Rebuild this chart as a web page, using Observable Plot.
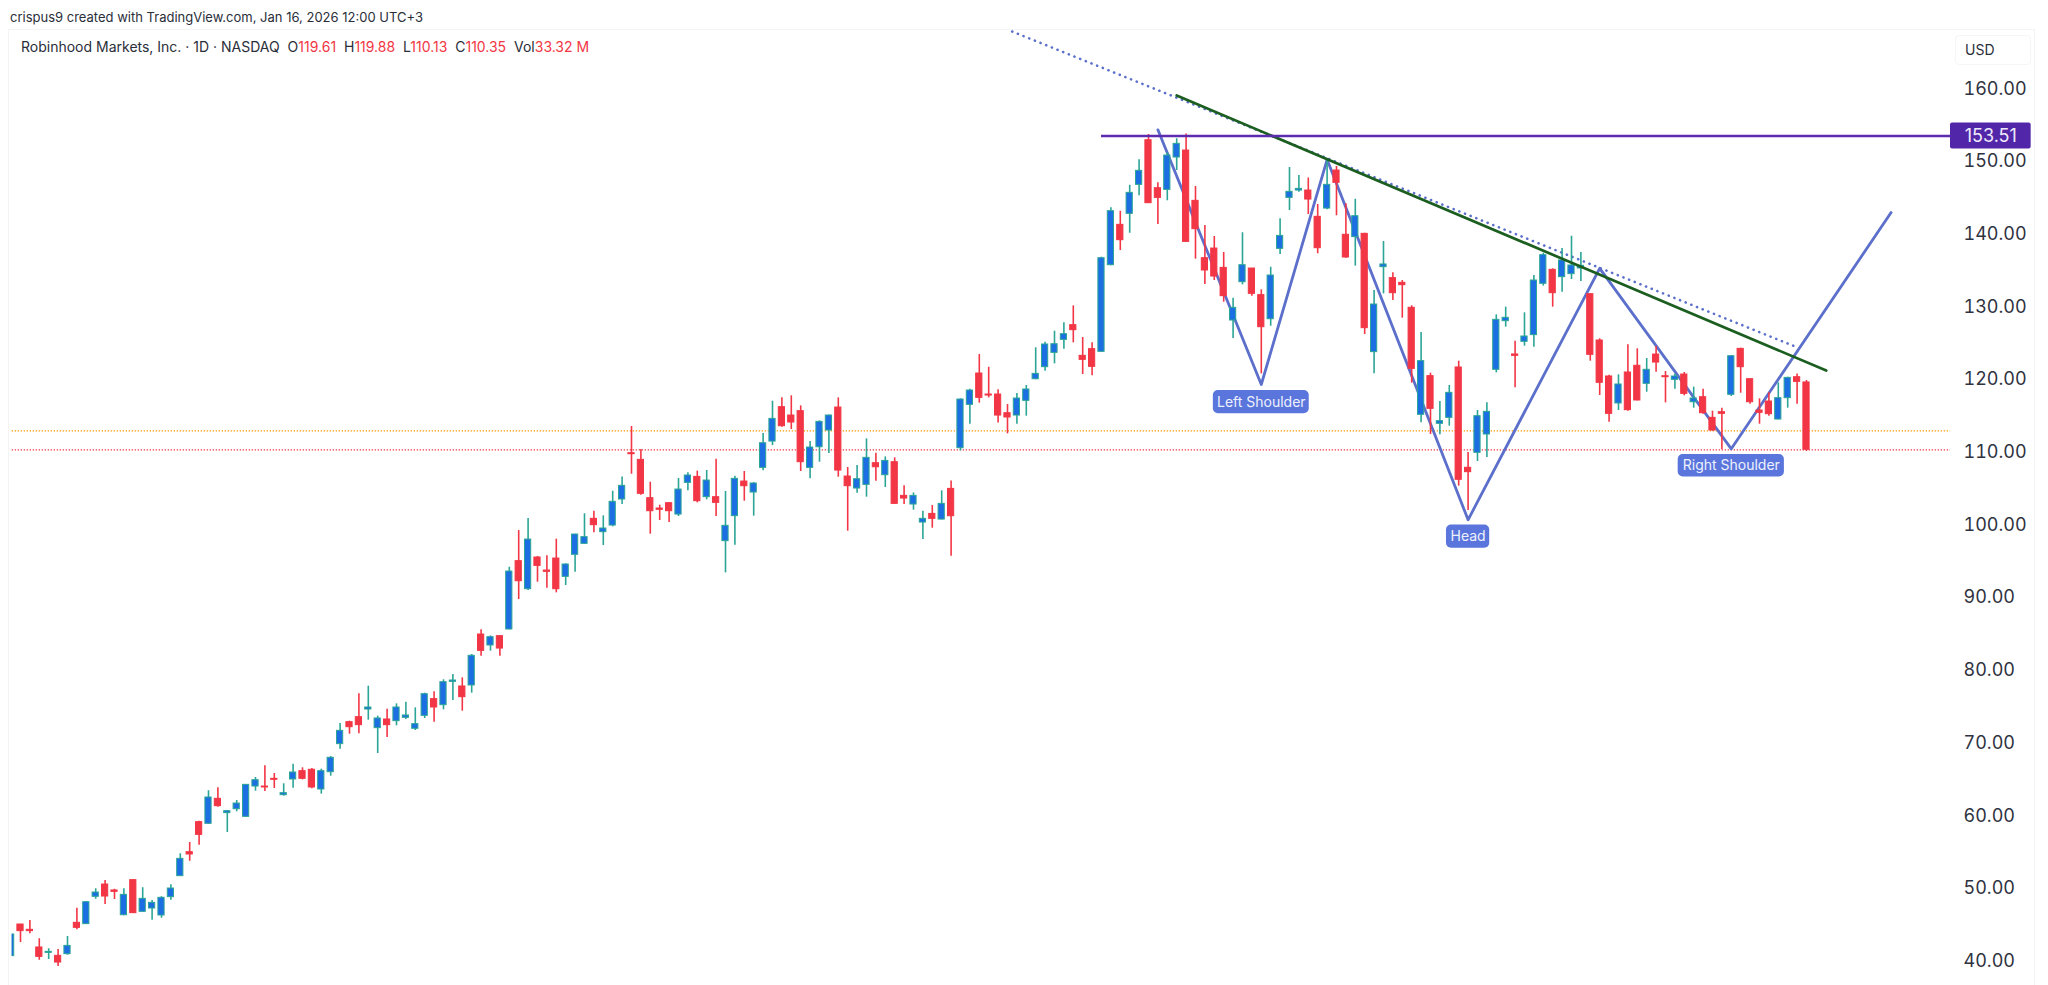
<!DOCTYPE html>
<html>
<head>
<meta charset="utf-8">
<script src="https://cdn.jsdelivr.net/npm/d3@7"></script>
<script src="https://cdn.jsdelivr.net/npm/@observablehq/plot@0.6"></script>
<style>
html,body{margin:0;padding:0;background:#fff;}
#wrap{position:relative;width:2048px;height:985px;overflow:hidden;font-family:Inter,"Liberation Sans",sans-serif;}
#pane{position:absolute;left:8px;top:29px;width:2027px;height:960px;border:1px solid #f4f4f5;box-sizing:border-box;}
#chart{position:absolute;left:0;top:0;}
.t{position:absolute;white-space:nowrap;color:#2a2e39;}
.r{color:#f23645;}
#usd{position:absolute;left:1955px;top:35px;width:76px;height:30px;border:1px solid #f6f6f7;border-radius:4px;box-sizing:border-box;font-size:14px;line-height:28px;padding-left:9px;color:#2a2e39;}
</style>
</head>
<body>
<div id="wrap">
<div id="pane"></div>
<div id="chart"></div>
<div class="t" style="left:10px;top:9px;font-size:13px;">crispus9 created with TradingView.com, Jan 16, 2026 12:00 UTC+3</div>
<div class="t" style="left:21px;top:38px;font-size:14px;">Robinhood Markets, Inc. · 1D · NASDAQ&nbsp; O<span class="r">119.61</span>&nbsp; H<span class="r">119.88</span>&nbsp; L<span class="r">110.13</span>&nbsp; C<span class="r">110.35</span>&nbsp; Vol<span class="r">33.32 M</span></div>
<div id="usd">USD</div>
</div>
<script>
const highs=[43.68,45.05,45.60,43.08,41.70,41.61,43.40,47.30,48.17,49.96,51.10,49.91,49.96,51.19,50.09,48.35,48.86,50.51,54.77,56.33,59.26,63.44,63.85,60.73,62.11,64.31,65.27,66.88,65.82,64.40,67.10,66.60,66.51,66.42,68.16,72.70,73.02,76.78,77.83,73.71,74.67,75.40,75.63,74.85,76.87,77.05,78.71,79.44,78.98,82.19,
85.58,84.75,84.75,94.20,99.24,100.89,95.67,95.76,98.05,94.66,98.74,101.54,101.90,101.26,104.65,106.62,113.55,110.39,105.89,102.73,103.09,106.40,107.18,107.41,107.50,109.05,104.61,106.72,107.36,105.85,
112.58,117.03,117.49,117.77,116.39,111.48,114.33,115.15,117.49,107.91,108.18,111.85,109.88,109.37,109.24,105.39,104.42,101.90,102.68,104.70,106.07,117.35,118.68,123.45,121.70,118.59,116.57,118.09,119.19,124.37,
125.15,126.66,127.81,130.15,125.79,125.06,136.84,143.63,143.17,146.74,150.23,153.70,147.07,151.20,153.12,153.80,146.56,141.20,139.68,137.48,131.20,140.19,135.28,132.35,135.46,142.12,149.18,148.07,147.75,144.08,150.14,149.31,
144.18,144.82,140.15,132.26,139.00,134.69,133.63,130.15,126.48,120.89,116.99,119.19,122.54,109.98,115.75,116.81,128.91,129.97,125.29,129.19,134.32,137.39,135.24,138.04,139.73,137.49,131.80,125.61,120.61,120.66,124.79,124.24,122.91,
124.55,121.11,120.79,120.98,118.96,118.69,115.66,116.07,123.32,124.32,120.06,117.36,118.18,119.56,120.33,120.79,119.88];
const lows=[40.70,42.58,43.77,40.14,40.24,39.27,40.83,44.32,45.05,48.54,47.80,48.49,46.24,46.56,46.75,45.65,45.92,48.40,51.65,53.76,55.96,58.85,61.19,57.71,60.55,59.81,63.39,63.35,63.76,62.70,63.80,64.95,63.71,62.98,65.45,69.17,71.23,71.28,73.16,68.57,70.77,72.38,73.25,71.74,73.39,72.88,74.58,75.86,74.40,76.87,
81.96,82.65,81.96,85.58,89.75,90.99,92.14,91.31,90.67,91.68,93.51,97.36,98.92,97.18,99.75,102.82,106.99,104.10,98.74,100.62,100.34,101.17,104.70,103.05,103.46,101.17,93.42,97.23,103.28,101.22,
107.45,110.93,113.46,113.13,107.36,106.35,108.64,109.83,106.58,99.15,104.38,103.83,106.03,105.16,102.86,102.82,102.04,98.00,99.56,100.71,95.71,110.20,113.87,116.76,117.49,114.05,112.54,113.87,114.97,119.97,
121.16,122.17,124.19,125.06,120.70,120.52,123.77,135.65,137.76,140.14,145.28,144.22,141.33,144.59,148.76,138.90,136.57,133.08,133.63,130.65,125.65,133.03,131.48,120.79,127.35,137.21,143.26,145.78,142.71,137.30,143.35,142.53,
136.71,135.61,126.21,120.80,131.80,130.88,128.45,119.51,114.06,112.45,112.41,113.60,105.35,102.00,108.74,109.29,120.93,127.22,118.87,124.60,124.46,132.86,129.97,132.03,133.77,133.50,122.54,117.82,114.15,115.75,115.66,117.08,118.27,
121.02,116.80,118.69,117.77,116.07,115.25,112.91,110.34,117.68,118.13,116.62,113.87,114.97,114.47,116.07,116.62,110.13];
const bodyTops=[43.68,45.05,44.32,41.89,41.29,40.74,42.11,45.28,48.12,49.45,50.55,49.73,49.13,51.15,48.58,48.03,48.72,50.00,54.08,55.00,59.13,62.52,62.34,60.64,61.69,64.26,64.90,64.03,65.09,63.12,65.96,66.14,66.33,66.14,67.98,71.69,72.88,73.57,74.90,73.39,73.25,74.90,73.80,72.61,76.73,76.05,78.38,78.61,77.79,82.01,
84.94,84.57,84.71,93.60,95.03,98.00,95.53,93.74,95.39,94.57,98.69,98.33,100.85,99.52,103.19,105.39,109.88,108.96,103.69,102.27,103.00,104.88,106.81,106.62,106.12,103.83,99.89,106.35,105.98,105.71,
111.25,114.60,116.21,115.06,115.66,110.66,114.19,115.06,116.16,106.67,106.30,109.24,108.50,108.82,108.64,104.01,104.01,100.85,101.53,102.91,104.97,117.26,118.50,120.84,117.95,117.95,115.38,117.40,118.64,120.79,
124.83,124.87,126.25,127.49,123.27,124.19,136.70,143.17,141.29,145.69,148.72,152.93,146.33,150.82,152.43,151.51,144.59,136.70,138.03,135.37,129.87,135.74,135.28,131.62,134.32,139.77,145.83,146.24,146.01,142.39,146.79,148.76,
139.92,142.48,140.05,130.33,135.84,133.96,133.31,129.88,122.54,120.48,114.29,118.18,121.67,107.87,114.97,115.57,128.22,128.50,123.46,125.93,133.63,137.12,135.10,136.39,135.70,135.65,131.75,125.38,120.43,119.33,120.98,121.90,121.35,
123.45,120.47,120.43,120.70,117.40,117.58,114.74,115.52,123.22,124.23,120.06,115.75,116.99,117.45,120.24,120.33,119.61];
const bodyBottoms=[40.70,44.14,44.14,40.60,41.15,39.82,40.97,44.59,45.10,48.86,48.90,49.54,46.33,46.61,46.79,47.25,46.29,48.81,51.70,54.68,57.38,58.90,61.33,60.37,60.91,59.86,64.03,63.90,64.95,62.84,65.00,65.09,63.90,63.62,66.00,69.86,72.19,72.47,74.62,72.06,72.47,73.02,73.48,71.97,73.75,74.90,75.22,78.43,76.32,77.93,
82.69,83.43,83.01,85.63,92.27,91.17,94.38,93.56,91.17,92.87,95.90,97.41,99.98,99.01,99.93,103.51,109.74,104.29,101.90,102.09,101.90,101.44,105.80,103.28,103.83,103.05,97.78,101.22,105.34,104.47,
107.86,111.48,113.59,114.10,108.64,107.86,110.70,113.00,107.49,105.34,105.02,105.52,107.95,106.85,102.91,103.64,102.82,100.34,100.85,100.75,101.21,110.57,116.53,117.49,117.81,115.06,114.79,115.06,117.08,120.06,
121.71,123.68,125.47,126.80,122.72,121.76,123.82,135.74,139.18,142.80,146.79,144.27,145.00,146.10,150.55,138.95,140.69,135.01,134.18,131.48,128.13,133.40,131.80,127.21,128.31,137.99,145.00,146.01,144.77,138.08,143.53,147.07,
136.80,139.60,127.08,123.78,135.47,131.89,132.99,121.48,115.16,115.98,113.92,114.74,106.22,107.27,109.93,112.45,121.35,128.04,123.27,125.20,126.12,133.18,131.89,134.09,134.51,135.29,123.41,119.56,115.29,116.72,115.80,117.13,119.42,
122.35,120.33,119.97,118.04,116.89,115.38,113.00,115.29,117.91,121.71,116.89,115.43,115.25,114.51,117.45,119.69,110.35];
const fallingDays=[1,2,3,5,7,10,11,13,19,20,22,27,28,31,32,36,37,40,45,48,50,52,54,56,57,58,62,66,67,68,69,70,73,75,78,82,83,84,88,89,92,94,95,98,100,103,104,105,106,113,114,115,118,121,122,125,126,127,128,129,132,133,138,139,141,142,144,147,148,149,151,154,155,160,164,168,169,170,172,173,175,176,178,180,181,182,184,185,186,187,190,191];
const yTicks=[40,50,60,70,80,90,100,110,120,130,140,150,160];
const patternDays=[122,133,140,155,169,183,200];
const patternPrices=[154.36,119.33,150.27,100.72,135.31,110.48,142.98];
const greenDays=[124,193.1];
const greenPrices=[159.08,121.25];
const dottedDays=[106.5,190.15];
const dottedPrices=[167.88,124.37];
const resistance=153.51;
const priceLines=[112.96,110.35];
const labelNames=["Left Shoulder","Head","Right Shoulder"];
const labelDays=[133,155,183];
const labelHalfSpans=[5.1,2.3,5.65];
const labelTops=[118.5,100,109.7];
const labelBottoms=[115.3,96.8,106.6];

const fall=new Set(fallingDays);
const candles=highs.map((h,i)=>({i,h,l:lows[i],t:bodyTops[i],b:bodyBottoms[i]}));
const up=candles.filter(d=>!fall.has(d.i)), down=candles.filter(d=>fall.has(d.i));
const BLUE="#1c6ee3",TEAL="#2ba596",RED="#f23645",LINE="#5b6fcb",PILL="#5a76dc";
const halfBar=0.33;
const zip=(a,b)=>a.map((x,k)=>({x,y:b[k]}));
const wicks=(data,c)=>Plot.ruleX(data,{x:"i",y1:"l",y2:"h",stroke:c,strokeWidth:1.6,clip:true});
const bodies=(data,f,s)=>Plot.rect(data,{x1:d=>d.i-halfBar,x2:d=>d.i+halfBar,y1:"b",y2:"t",fill:f,stroke:s,strokeWidth:1,clip:true});
const labels=labelNames.map((n,k)=>({n,x:labelDays[k],hs:labelHalfSpans[k],t:labelTops[k],b:labelBottoms[k]}));

const chart=Plot.plot({
  width:2048,height:985,
  marginLeft:11.7,marginRight:98,marginTop:29,marginBottom:0,
  style:{fontFamily:"Inter,'Liberation Sans',sans-serif",background:"transparent"},
  x:{domain:[0.117,206.32],axis:null},
  y:{domain:[36.66,168.16]},
  marks:[
    Plot.ruleY([priceLines[0]],{stroke:"#ff9800",strokeWidth:1.2,strokeDasharray:"1.3 1.7"}),
    Plot.ruleY([priceLines[1]],{stroke:"#f23645",strokeWidth:1.2,strokeDasharray:"1.3 1.7"}),
    Plot.line(zip(dottedDays,dottedPrices),{x:"x",y:"y",stroke:LINE,strokeWidth:2.6,strokeDasharray:"0.1 6",strokeLinecap:"round",clip:true}),
    Plot.line(zip(patternDays,patternPrices),{x:"x",y:"y",stroke:LINE,strokeWidth:2.8,curve:"linear"}),
    wicks(up,TEAL),wicks(down,RED),
    bodies(up,BLUE,TEAL),bodies(down,RED,RED),
    Plot.line(zip(greenDays,greenPrices),{x:"x",y:"y",stroke:"#1b5e20",strokeWidth:2.7}),
    Plot.ruleY([resistance],{x1:116,x2:206.32,stroke:"#5b2bb0",strokeWidth:2.6}),
    Plot.rect([resistance],{x1:206.32,x2:214.9,y1:d=>d+1.8,y2:d=>d-1.8,fill:"#5226a8",rx:2}),
    Plot.text([resistance],{x:210.6,y:d=>d,text:d=>d.toFixed(2),fill:"#efe9fb",fontSize:18}),
    Plot.rect(labels,{x1:d=>d.x-d.hs,x2:d=>d.x+d.hs,y1:"b",y2:"t",fill:PILL,rx:5}),
    Plot.text(labels,{x:"x",y:d=>(d.t+d.b)/2,text:"n",fill:"#eef1fd",fontSize:14}),
    Plot.axisY(yTicks,{anchor:"right",tickSize:0,tickPadding:13,label:null,tickFormat:d=>d.toFixed(2),fontSize:18,fill:"#2f3340"})
  ]
});
document.getElementById("chart").appendChild(chart);
</script>
</body>
</html>
